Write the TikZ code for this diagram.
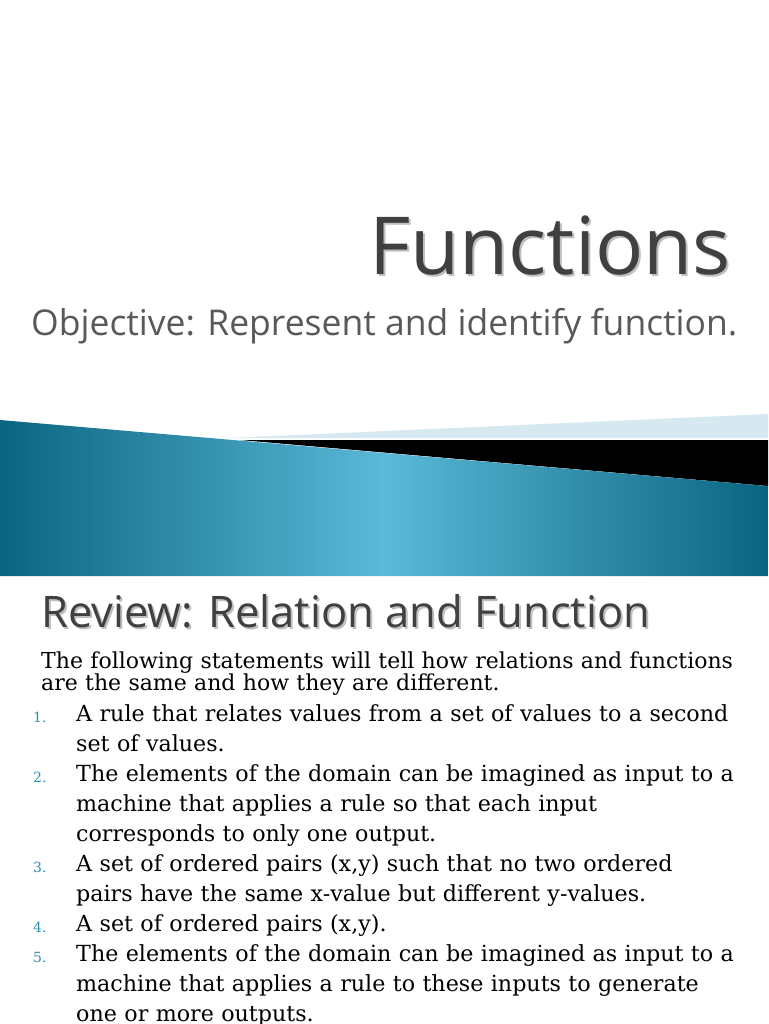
\documentclass[tikz,border=0pt]{standalone}
\usepackage{fontspec}
\setmainfont{DejaVu Serif}
\newfontfamily\osans{Open Sans}
\definecolor{tealdark}{HTML}{0A6580}
\definecolor{teallight}{HTML}{5AB9D8}
\definecolor{paleblue}{HTML}{D6E8F0}
\definecolor{titlegray}{HTML}{404040}
\definecolor{subgray}{HTML}{595959}
\definecolor{numteal}{HTML}{2E8FB0}
\begin{document}
\begin{tikzpicture}[x=1pt,y=-1pt,
  bodytxt/.style={anchor=north west,inner sep=0pt,font=\fontsize{22.2}{30}\selectfont,text width=#1,align=left},
  num/.style={anchor=base west,inner sep=0pt,font=\fontsize{14}{16}\selectfont,text=numteal}]
\useasboundingbox (0,0) rectangle (768,1024);
\fill[white] (0,0) rectangle (768,1024);
% top slide band
\fill[paleblue] (230,438) -- (768,414) -- (768,438) -- cycle;
\fill[black] (240,440) -- (768,440) -- (768,486) -- cycle;
\shade[left color=tealdark,right color=tealdark,middle color=teallight]
  (0,420) -- (768,486) -- (768,576) -- (0,576) -- cycle;
% title
\node[anchor=base east,inner sep=0pt,font=\osans\fontsize{80}{90}\selectfont,text=gray!50] (tsh) at (733,276) {Functions};
\node[anchor=base east,inner sep=0pt,font=\osans\fontsize{80}{90}\selectfont,text=titlegray] (title) at (731,274) {Functions};
\node[anchor=base west,inner sep=0pt,font=\osans\fontsize{35.5}{40}\selectfont,text=subgray] (sub) at (31,335) {Objective: Represent and identify function.};
% second slide
\node[anchor=base west,inner sep=0pt,font=\osans\fontsize{43.5}{48}\selectfont,text=gray!50] (rsh) at (43,629) {Review: Relation and Function};
\node[anchor=base west,inner sep=0pt,font=\osans\fontsize{43.5}{48}\selectfont,text=titlegray] (rev) at (41,627) {Review: Relation and Function};
\node[bodytxt=740pt,font=\fontsize{22}{22}\selectfont] (intro) at (41,652) {The following statements will tell how relations and functions\\ are the same and how they are different.};
\node[bodytxt=720pt] (i1) at (76,704) {A rule that relates values from a set of values to a second\\ set of values.};
\node[bodytxt=720pt] (i2) at (76,764) {The elements of the domain can be imagined as input to a\\ machine that applies a rule so that each input\\ corresponds to only one output.};
\node[bodytxt=720pt] (i3) at (76,854) {A set of ordered pairs (x,y) such that no two ordered\\ pairs have the same x-value but different y-values.};
\node[bodytxt=720pt] (i4) at (76,914) {A set of ordered pairs (x,y).};
\node[bodytxt=720pt] (i5) at (76,944) {The elements of the domain can be imagined as input to a\\ machine that applies a rule to these inputs to generate\\ one or more outputs.};
\node[num] (n1) at (33,722) {1.};
\node[num] (n2) at (33,782) {2.};
\node[num] (n3) at (33,872) {3.};
\node[num] (n4) at (33,932) {4.};
\node[num] (n5) at (33,962) {5.};
\end{tikzpicture}
\end{document}
